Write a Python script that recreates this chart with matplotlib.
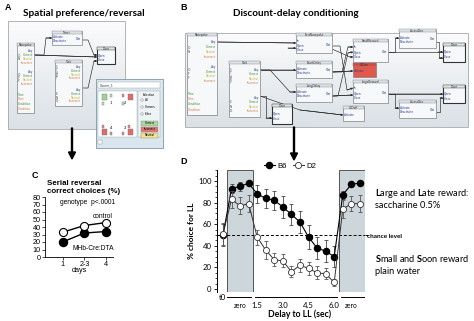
import matplotlib
matplotlib.use('Agg')
import matplotlib.pyplot as plt
import numpy as np
from matplotlib.patches import Rectangle, FancyArrow
from matplotlib.colors import LinearSegmentedColormap
from matplotlib.lines import Line2D

plt.rcParams['font.family'] = ['Lato', 'DejaVu Sans']
plt.rcParams['mathtext.fontset'] = 'custom'
plt.rcParams['mathtext.rm'] = 'Lato'
plt.rcParams['mathtext.bf'] = 'Lato:bold'

# ---- panel C data ----
c_days = ['1', '2-3', '4']
c_control = [33, 42, 46]
c_dta = [20, 32, 34]

# ---- panel D data ----
d_pos = list(range(17))
d_b6 = [50, 93, 95, 98, 88, 84, 82, 76, 69, 62, 48, 38, 35, 30, 87, 97, 98]
d_b6_err = [10, 4, 4, 2, 8, 9, 9, 10, 10, 10, 11, 10, 10, 10, 4, 2, 2]
d_d2 = [51, 83, 77, 79, 48, 36, 27, 26, 16, 22, 19, 15, 14, 6, 74, 79, 79]
d_d2_err = [10, 8, 8, 8, 7, 8, 6, 6, 5, 6, 6, 6, 5, 3, 8, 7, 8]
d_tick_pos = [4, 7, 10, 13]
d_tick_lab = ['1.5', '3.0', '4.5', '6.0']

NAVY = '#2b3a8c'
GREEN = '#3d8f3d'
YEL = '#cdbb4e'
ORG = '#d37d4a'

fig = plt.figure(figsize=(4.74, 3.21), dpi=100)
bg = fig.add_axes([0, 0, 1, 1])
bg.set_xlim(0, 474)
bg.set_ylim(321, 0)
bg.axis('off')

cmap = LinearSegmentedColormap.from_list('g', ['#fbfbfc', '#dbe1e6'])


def panel_bg(x0, y0, x1, y1):
    grad = np.linspace(0, 1, 64).reshape(-1, 1)
    bg.imshow(grad, extent=(x0, x1, y1, y0), cmap=cmap, aspect='auto', zorder=1)
    bg.add_patch(Rectangle((x0, y0), x1 - x0, y1 - y0, fill=False,
                           ec='#a4a8ac', lw=0.6, zorder=2))


def block(x, y, w, h, title, left=(), right=(), fc='#f7f8f9', ec='#7d8287',
          lw=0.5, tfc='#dde2e6', fs=2.2):
    bg.add_patch(Rectangle((x, y), w, h, fc=fc, ec=ec, lw=lw, zorder=3))
    bg.add_patch(Rectangle((x, y), w, 3.4, fc=tfc, ec=ec, lw=0.3, zorder=3))
    bg.text(x + w / 2, y + 1.8, title, fontsize=fs, ha='center', va='center',
            color='#333', zorder=4)
    for fy, txt, col in left:
        bg.text(x + 1.2, y + fy * h, txt, fontsize=fs, ha='left', va='center',
                color=col, zorder=4)
    for fy, txt, col in right:
        bg.text(x + w - 1.2, y + fy * h, txt, fontsize=fs, ha='right',
                va='center', color=col, zorder=4)


def wire(pts):
    xs, ys = zip(*pts)
    bg.plot(xs, ys, color='#222', lw=0.45, zorder=2.5)
    bg.annotate('', xy=pts[-1], xytext=pts[-2],
                arrowprops=dict(arrowstyle='-|>', lw=0.45, color='#222',
                                mutation_scale=2.5, shrinkA=0, shrinkB=0),
                zorder=2.6)


np_right = [(0.11, 'Any', NAVY), (0.17, 'Correct', GREEN), (0.23, 'Neutral', YEL),
            (0.29, 'Incorrect', ORG), (0.41, 'Any', NAVY), (0.47, 'Correct', GREEN),
            (0.53, 'Neutral', YEL), (0.59, 'Incorrect', ORG)]
np_left = [(0.74, 'Time', GREEN), (0.80, 'Time', ORG), (0.87, 'Condition', GREEN),
           (0.94, 'Condition', ORG), (0.18, 'O', '#555'), (0.23, 'N', '#555'),
           (0.45, 'O', '#555'), (0.50, 'F', '#555'), (0.55, 'F', '#555')]
visit_right = [(0.16, 'Any', NAVY), (0.24, 'Correct', GREEN), (0.32, 'Neutral', YEL),
               (0.40, 'Incorrect', ORG), (0.66, 'Any', NAVY), (0.74, 'Correct', GREEN),
               (0.82, 'Neutral', YEL), (0.90, 'Incorrect', ORG)]
visit_left = [(0.16 + 0.06 * i, c, '#555') for i, c in enumerate('START')] + \
             [(0.74 + 0.08 * i, c, '#555') for i, c in enumerate('END')]
timer_l = [(0.45, 'Activate', NAVY), (0.68, 'Deactivate', NAVY)]
timer_r = [(0.55, 'Out', NAVY)]
door_l = [(0.5, 'Open', NAVY), (0.75, 'Close', NAVY)]

# ---------------- panel A ----------------
bg.text(5, 7, 'A', fontsize=6.5, fontweight='bold', family='Liberation Sans',
        ha='left', va='center')
bg.text(84, 13, 'Spatial preference/reversal', fontsize=7.2, fontweight='bold',
        ha='center', va='center')
panel_bg(8, 21, 125, 129)
block(17, 43, 17, 70, 'Nosepoke', np_left, np_right)
block(52, 31, 30, 14, 'Timer', timer_l, timer_r)
block(55, 60, 27, 46, 'Visit', visit_left, visit_right)
block(97, 47, 18, 17, 'Door', door_l, lw=0.8, ec='#333')
wire([(34, 55), (44, 55), (46, 38), (52, 38)])
wire([(34, 55), (97, 57)])
wire([(82, 40), (88, 40), (94, 55), (97, 55)])
wire([(82, 88), (88, 88), (94, 61), (97, 61)])

# dialog window
bg.add_patch(Rectangle((96, 79), 67, 69, fc='#d9e6ee', ec='#7f98a8', lw=0.6, zorder=5))
bg.add_patch(Rectangle((98, 82), 62, 6, fc='white', ec='#9aa', lw=0.3, zorder=6))
bg.text(99.5, 85, 'Corner_1', fontsize=2.4, va='center', zorder=7, color='#333')
bg.add_patch(Rectangle((98, 91), 39, 46, fc='white', ec='#9aa', lw=0.3, zorder=6))
bg.add_patch(Rectangle((138, 91), 22, 46, fc='#eef3f6', ec='#9aa', lw=0.3, zorder=6))
sq = [(102, 94, '#9fd39a', 5.5), (110, 94, '#bfe3bb', 2.5), (122, 94, '#e58a8a', 2.5),
      (128, 94, '#e06b6b', 5.5), (102, 129, '#e06b6b', 5.5), (110, 132, '#e58a8a', 2.5),
      (102, 125, '#e58a8a', 2.5), (128, 129, '#e06b6b', 5.5), (122, 132, '#e58a8a', 2.5),
      (128, 125, '#e58a8a', 2.5), (102, 102, '#bfe3bb', 2.5), (122, 102, '#bfe3bb', 2.5)]
for sx, sy, sc, ss in sq:
    bg.add_patch(Rectangle((sx, sy), ss, ss, fc=sc, ec='#777', lw=0.3, zorder=7))
for lx, ly, lt in [(111, 103.5, '1'), (125, 103.5, '2'), (111, 128, '4'), (125, 128, '3')]:
    bg.text(lx, ly, lt, fontsize=2.8, ha='center', va='center', zorder=7)
bg.text(149, 95, 'Selection', fontsize=2.2, ha='center', va='center', zorder=7)
for ry, rt in [(100, 'All'), (107, 'Corners'), (114, 'Sides')]:
    bg.add_patch(plt.Circle((142, ry), 1.2, fc='white', ec='#666', lw=0.3, zorder=7))
    bg.text(144.5, ry, rt, fontsize=2.2, va='center', zorder=7)
for by, bt, bc in [(121, 'Correct', '#a6d99c'), (127, 'Incorrect', '#e27474'),
                   (133, 'Neutral', '#f0e28e')]:
    bg.add_patch(Rectangle((141, by), 17, 4.5, fc=bc, ec='#888', lw=0.3, zorder=7))
    bg.text(149.5, by + 2.3, bt, fontsize=2.2, ha='center', va='center', zorder=8)
bg.add_patch(Rectangle((98, 140), 4, 4, fc='white', ec='#888', lw=0.3, zorder=7))

# ---------------- panel B ----------------
bg.text(180, 7, 'B', fontsize=6.5, fontweight='bold', family='Liberation Sans',
        ha='left', va='center')
bg.text(296, 14, 'Discount-delay conditioning', fontsize=7.2, fontweight='bold',
        ha='center', va='center')
panel_bg(185, 33, 468, 127)
block(187, 33, 30, 82, 'Nosepoke', np_left, np_right)
block(229, 61, 31, 56, 'Visit', visit_left, visit_right)
block(296, 33, 36, 20, 'FirstNosepoke', [(0.4, 'In', NAVY), (0.65, 'Open', NAVY),
                                         (0.85, 'Close', NAVY)], [(0.6, 'Out', NAVY)])
block(296, 61, 36, 17, 'ShortDelay', timer_l, timer_r)
block(296, 84, 36, 18, 'LongDelay', timer_l, timer_r)
rew_l = [(0.35, 'In', NAVY), (0.6, 'Open', NAVY), (0.8, 'Close', NAVY)]
block(353, 39, 35, 23, 'SmallReward', rew_l, [(0.55, 'Out', NAVY)])
block(353, 63, 23, 14, 'LEDon', [(0.6, 'Activate', NAVY)], fc='#e2584a', tfc='#d9473a')
block(353, 80, 35, 23, 'LargeReward', rew_l, [(0.55, 'Out', NAVY)])
block(343, 106, 21, 15, 'LEDoff', [(0.6, 'Activate', NAVY)])
block(272, 104, 20, 20, 'Door', door_l, lw=0.8, ec='#333')
block(399, 29, 37, 19, 'AccessDec', timer_l, timer_r)
block(399, 100, 37, 18, 'AccessDec', timer_l, timer_r)
block(443, 43, 22, 19, 'Door', door_l, lw=0.8, ec='#333')
block(443, 85, 22, 18, 'Door', door_l, lw=0.8, ec='#333')
wire([(217, 42), (296, 43)])
wire([(288, 48), (296, 48)])
wire([(260, 70), (296, 70)])
wire([(260, 70), (270, 70), (290, 92), (296, 92)])
wire([(260, 96), (300, 110), (343, 115)])
wire([(260, 96), (266, 96), (266, 118), (272, 118)])
wire([(332, 46), (340, 46), (347, 90), (353, 88)])
wire([(332, 72), (342, 72), (348, 47), (353, 47)])
wire([(332, 72), (353, 71)])
wire([(332, 96), (353, 95)])
wire([(332, 96), (338, 96), (348, 53), (353, 52)])
wire([(332, 49), (350, 57), (353, 57)])
wire([(388, 52), (395, 52), (395, 38), (399, 38)])
wire([(388, 52), (438, 52), (443, 52)])
wire([(436, 42), (439, 42), (439, 58), (443, 58)])
wire([(388, 94), (443, 94)])
wire([(388, 94), (395, 94), (395, 108), (399, 108)])
wire([(436, 112), (440, 112), (440, 98), (443, 98)])

# big arrows
bg.add_patch(FancyArrow(72, 128, 0, 24, width=1.0, head_width=7, head_length=7,
                        length_includes_head=False, color='black', zorder=5))
bg.add_patch(FancyArrow(294, 127, 0, 26, width=1.0, head_width=7, head_length=7,
                        length_includes_head=False, color='black', zorder=5))

# ---------------- panel C ----------------
bg.text(32, 175, 'C', fontsize=6.5, fontweight='bold', family='Liberation Sans',
        ha='left', va='center')
axc = fig.add_axes([45 / 474, 1 - 257 / 321, 68 / 474, 60 / 321])
xc = np.arange(len(c_days))
axc.plot(xc, c_dta, '-o', color='black', mfc='black', mec='black', ms=5.8, lw=1.0)
axc.plot(xc, c_control, '-o', color='black', mfc='white', mec='black', ms=5.8,
         lw=1.0, mew=0.8)
axc.set_xlim(-0.8, 2.3)
axc.set_ylim(0, 80)
axc.set_yticks(range(0, 81, 10))
axc.set_xticks(xc)
axc.set_xticklabels(c_days)
for s in ['top', 'right']:
    axc.spines[s].set_visible(False)
for s in ['left', 'bottom']:
    axc.spines[s].set_linewidth(0.6)
axc.tick_params(labelsize=5.2, length=2, width=0.5, pad=1)
for lab in axc.get_xticklabels() + axc.get_yticklabels():
    lab.set_family('Liberation Sans')
axc.set_xlabel('days', fontsize=5.2, family='Liberation Sans', labelpad=-1)
axc.set_title('Serial reversal\ncorrect choices (%)', fontsize=5.7,
              fontweight='bold', family='Liberation Sans', loc='left', x=0.03,
              pad=3, linespacing=1.1)
axc.text(0.62, 0.9, 'genotype  p<.0001', transform=axc.transAxes, fontsize=4.8,
         family='Liberation Sans', ha='center', va='center')
axc.text(1.85, 54, 'control', fontsize=4.8, family='Liberation Sans',
         ha='center', va='center')
axc.text(1.4, 12, 'MHb-Cre:DTA', fontsize=4.8, family='Liberation Sans',
         ha='center', va='center')

# ---------------- panel D ----------------
bg.text(180, 161, 'D', fontsize=6.5, fontweight='bold', family='Liberation Sans',
        ha='left', va='center')
axd = fig.add_axes([217 / 474, 1 - 292 / 321, 148 / 474, 122 / 321])
axd.set_xlim(-0.7, 16.6)
axd.set_ylim(-2.8, 110.2)
gray = '#cdd6db'
axd.add_patch(Rectangle((0.48, -2.8), 3.02, 113, fc=gray, ec='#555', lw=0.7, zorder=0))
axd.add_patch(Rectangle((13.6, -2.8), 2.95, 113, fc=gray, ec='#555', lw=0.7, zorder=0))
axd.axhline(50, color='black', lw=0.7, ls=(0, (3, 2)), zorder=1)
axd.plot([16.6, 17.0], [50, 50], color='black', lw=0.7, ls=(0, (3, 2)), clip_on=False)
axd.errorbar(d_pos, d_b6, yerr=d_b6_err, fmt='-o', color='black', mfc='black',
             mec='black', ms=4.4, lw=0.8, ecolor='#444', elinewidth=0.6,
             capsize=1.5, capthick=0.6, zorder=3)
axd.errorbar(d_pos, d_d2, yerr=d_d2_err, fmt='-o', color='#333', mfc='white',
             mec='#333', ms=4.4, lw=0.7, mew=0.6, ecolor='#555', elinewidth=0.6,
             capsize=1.5, capthick=0.6, zorder=4)
for s in ['top', 'right', 'bottom']:
    axd.spines[s].set_visible(False)
axd.spines['left'].set_linewidth(0.7)
axd.set_yticks(range(0, 101, 20))
axd.set_yticks(range(0, 111, 5), minor=True)
axd.set_xticks([])
axd.tick_params(axis='y', which='major', labelsize=5.6, length=2.5, width=0.6, pad=1.5)
axd.tick_params(axis='y', which='minor', length=1.5, width=0.5)
axd.set_ylabel('% choice for LL', fontsize=6, fontweight='bold', labelpad=2)

# bracket lines and labels under the axis
for x0, x1 in [(0.5, 3.3), (3.7, 13.3), (13.8, 16.5)]:
    axd.plot([x0, x1], [-7.5, -7.5], color='black', lw=0.7, clip_on=False)
axd.text(-0.1, -7.5, 't0', fontsize=5.6, ha='center', va='center', clip_on=False)
for xp, xl in zip([2, 15] + d_tick_pos, ['zero', 'zero'] + d_tick_lab):
    axd.text(xp, -15, xl, fontsize=5.6 if xl != 'zero' else 4.8, ha='center',
             va='center', clip_on=False)
fig.text(300 / 474, 1 - 314 / 321, 'Delay to LL (sec)', fontsize=6.2,
         fontweight='bold', ha='center', va='center')

h_b6 = Line2D([], [], color='black', marker='o', mfc='black', ms=4.4, lw=0.8)
h_d2 = Line2D([], [], color='#333', marker='o', mfc='white', ms=4.4, lw=0.7, mew=0.6)
fig.legend([h_b6, h_d2], ['B6', 'D2'], loc='center', ncol=2, frameon=False,
           bbox_to_anchor=(290 / 474, 1 - 166 / 321),
           handlelength=1.4, handletextpad=0.3, columnspacing=0.8,
           prop={'family': 'Liberation Sans', 'size': 5.6})

# side notes
fig.text(367 / 474, 1 - 237 / 321, 'chance level', fontsize=4.6, fontweight='bold',
         ha='left', va='center')
fig.text(375 / 474, 1 - 194 / 321, r'$\mathbf{L}$arge and $\mathbf{L}$ate reward:',
         fontsize=6.7, ha='left', va='center')
fig.text(375 / 474, 1 - 206 / 321, 'saccharine 0.5%', fontsize=6.7, ha='left',
         va='center')
fig.text(375 / 474, 1 - 259 / 321, r'$\mathbf{S}$mall and $\mathbf{S}$oon reward',
         fontsize=6.7, ha='left', va='center')
fig.text(375 / 474, 1 - 271 / 321, 'plain water', fontsize=6.7, ha='left',
         va='center')

fig.savefig('out.png', dpi=100)
